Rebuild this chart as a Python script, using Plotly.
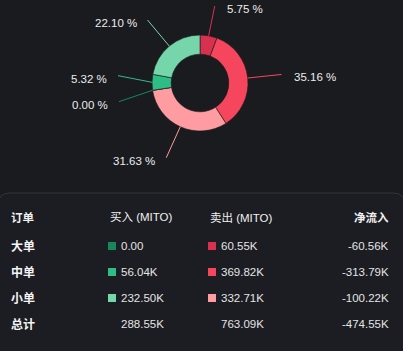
import math
import plotly.graph_objects as go

# ---------------- data ----------------
slice_names = ["大单卖出", "中单卖出", "小单卖出", "大单买入", "中单买入", "小单买入"]
slice_pct = [5.75, 35.16, 31.63, 0.00, 5.32, 22.10]
slice_labels = ["5.75 %", "35.16 %", "31.63 %", "0.00 %", "5.32 %", "22.10 %"]
slice_colors = ["#d8314f", "#f5465e", "#ff9ca1", "#17875a", "#2ebd85", "#76d6ab"]

col_headers = ["订单", "买入 (MITO)", "卖出 (MITO)", "净流入"]
row_names = ["大单", "中单", "小单", "总计"]
buy_vals = ["0.00", "56.04K", "232.50K", "288.55K"]
sell_vals = ["60.55K", "369.82K", "332.71K", "763.09K"]
net_vals = ["-60.56K", "-313.79K", "-100.22K", "-474.55K"]
buy_colors = ["#17875a", "#2ebd85", "#76d6ab", None]
sell_colors = ["#d8314f", "#f5465e", "#ff9ca1", None]

# ---------------- layout constants ----------------
W, H = 403, 351
BG = "#1a1b1f"
FONT = "Liberation Sans, Arial, Noto Sans CJK SC, sans-serif"
CX, CY, R_OUT, HOLE = 200, 83, 48, 0.6
R_END = 82
TOP_MIN = 6

fig = go.Figure()

fig.add_trace(go.Pie(
    values=slice_pct, labels=slice_names, sort=False, direction="clockwise",
    rotation=0, hole=HOLE, textinfo="none", hoverinfo="label+percent",
    marker=dict(colors=slice_colors, line=dict(color=BG, width=0.6)),
    domain=dict(x=[(CX - R_OUT) / W, (CX + R_OUT) / W],
                y=[1 - (CY + R_OUT) / H, 1 - (CY - R_OUT) / H]),
    showlegend=False,
))

# invisible pixel axis for overlays
fig.add_trace(go.Scatter(x=[0, W], y=[0, H], mode="markers",
                         marker=dict(opacity=0), hoverinfo="skip", showlegend=False))

shapes = []
annotations = []

# panel
shapes.append(dict(type="path", xref="x", yref="y", layer="below",
                   path=f"M -2 {H+4} L -2 205 Q -2 193 10 193 L 393 193 Q 405 193 405 205 L 405 {H+4} Z",
                   line=dict(color="#32343c", width=1), fillcolor="#1c1d22"))

# leader lines + labels computed from slice angles
total = sum(slice_pct)
acc = 0.0
items = []
for pct, lab, col in zip(slice_pct, slice_labels, slice_colors):
    mid = (acc + pct / 2) / total * 2 * math.pi
    acc += pct
    sx, sy = CX + R_OUT * math.sin(mid), CY - R_OUT * math.cos(mid)
    ex, ey = CX + R_END * math.sin(mid), CY - R_END * math.cos(mid)
    ey = max(ey, TOP_MIN)
    items.append(dict(sx=sx, sy=sy, ex=ex, ey=ey, lab=lab, col=col, right=math.sin(mid) > 0.01))

# spread labels on each side vertically (min gap)
GAP = 26
for side in (True, False):
    grp = sorted([it for it in items if it["right"] == side], key=lambda d: d["ey"])
    for i in range(1, len(grp)):
        a, b = grp[i - 1], grp[i]
        if b["ey"] - a["ey"] < GAP:
            c = (a["ey"] + b["ey"]) / 2
            a["ey"], b["ey"] = c - GAP / 2, c + GAP / 2

for it in items:
    shapes.append(dict(type="line", xref="x", yref="y", x0=it["sx"], y0=it["sy"],
                       x1=it["ex"], y1=it["ey"], line=dict(color=it["col"], width=1)))
    if it["right"]:
        annotations.append(dict(x=it["ex"] + 10, y=it["ey"] + 3, xanchor="left"))
    else:
        annotations.append(dict(x=it["ex"] - 9, y=it["ey"] + 3, xanchor="right"))
    annotations[-1].update(text=it["lab"], xref="x", yref="y", yanchor="middle", showarrow=False,
                           font=dict(color="#ececec", size=11.5, family=FONT))

# table
HEADER_Y = 217
ROW_Y = [246, 272, 298, 324]
COL_X = [9, 108, 208, 391]

for j, h in enumerate(col_headers):
    annotations.append(dict(text=f"<b>{h}</b>" if j in (0, 3) else h, x=COL_X[j], y=HEADER_Y,
                            xref="x", yref="y", xanchor="right" if j == 3 else "left",
                            yanchor="middle", showarrow=False,
                            font=dict(color="#f0f0f0", size=11.5, family=FONT)))

sq_x, sq_y, sq_c = [], [], []
for i, rn in enumerate(row_names):
    y = ROW_Y[i]
    annotations.append(dict(text=f"<b>{rn}</b>", x=COL_X[0], y=y, xref="x", yref="y",
                            xanchor="left", yanchor="middle", showarrow=False,
                            font=dict(color="#f4f4f4", size=12, family=FONT)))
    for txt, cx0, colr in ((buy_vals[i], COL_X[1], buy_colors[i]), (sell_vals[i], COL_X[2], sell_colors[i])):
        annotations.append(dict(text=txt, x=cx0 + 11, y=y, xref="x", yref="y",
                                xanchor="left", yanchor="middle", showarrow=False,
                                font=dict(color="#e4e4e4", size=11.5, family=FONT)))
        if colr:
            sq_x.append(cx0 + 4)
            sq_y.append(y)
            sq_c.append(colr)
    annotations.append(dict(text=net_vals[i], x=COL_X[3], y=y, xref="x", yref="y",
                            xanchor="right", yanchor="middle", showarrow=False,
                            font=dict(color="#e4e4e4", size=11.5, family=FONT)))

fig.add_trace(go.Scatter(x=sq_x, y=sq_y, mode="markers", hoverinfo="skip", showlegend=False,
                         marker=dict(symbol="square", size=8, color=sq_c, line=dict(width=0))))

fig.update_layout(
    width=W, height=H, margin=dict(l=0, r=0, t=0, b=0),
    paper_bgcolor=BG, plot_bgcolor="rgba(0,0,0,0)",
    xaxis=dict(range=[0, W], visible=False, fixedrange=True, domain=[0, 1]),
    yaxis=dict(range=[H, 0], visible=False, fixedrange=True, domain=[0, 1]),
    shapes=shapes, annotations=annotations,
)

fig.write_html("out.html")
